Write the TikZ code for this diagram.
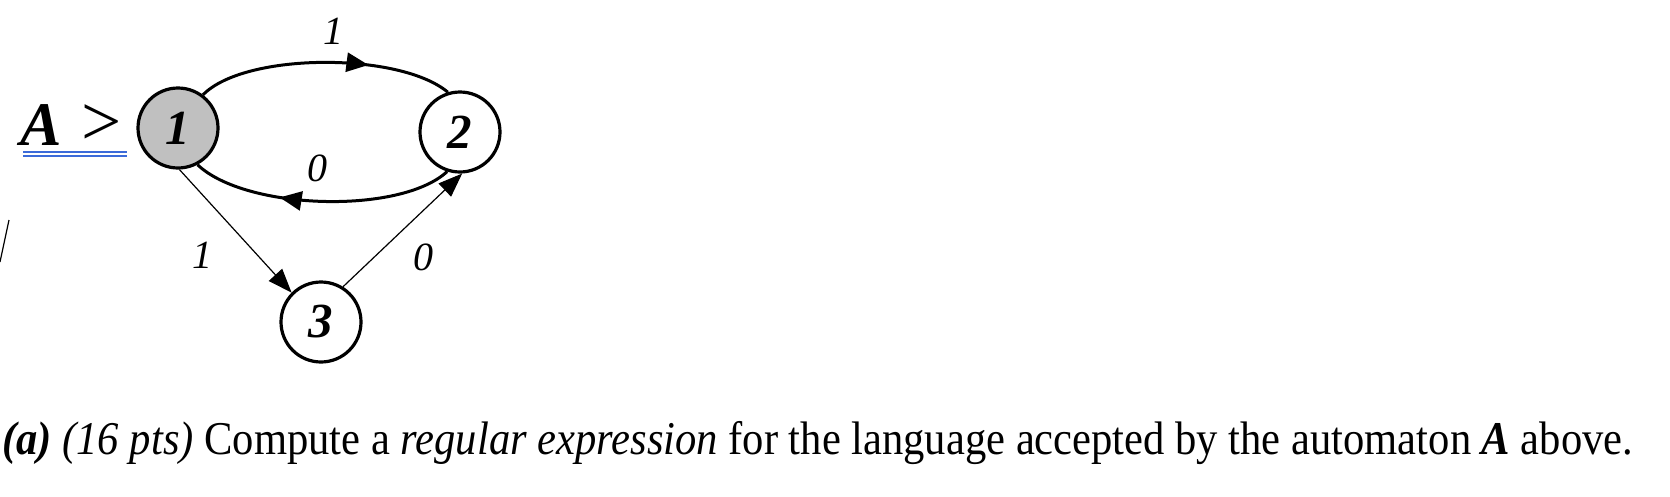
\documentclass[tikz,border=0pt]{standalone}
\usepackage{fontspec}
\setmainfont{Liberation Serif}
\usetikzlibrary{arrows.meta,decorations.markings}
\definecolor{stgray}{HTML}{C0C0C0}
\definecolor{ulblue}{HTML}{3B6BD9}
\tikzset{
  stnode/.style={circle, draw, line width=3.2pt, minimum size=80pt, inner sep=0pt,
    font=\fontsize{49}{49}\selectfont\bfseries\itshape},
  elabel/.style={inner sep=0pt, font=\fontsize{40}{40}\selectfont\itshape},
  thickedge/.style={line width=3pt},
  thinedge/.style={line width=1.2pt, -{Triangle[length=24pt,width=18pt]}},
  midarrow/.style={postaction={decorate, decoration={markings,
      mark=at position #1 with {\arrow{Triangle[length=22pt,width=19pt]}}}}}
}
\begin{document}
\begin{tikzpicture}[x=1pt,y=-1pt]
\useasboundingbox (0,0) rectangle (1670,496);
% states
\node[stnode, fill=stgray] (n1) at (178,128) {1};
\node[stnode] (n2) at (460,132) {2};
\node[stnode] (n3) at (321,322) {3};
% start marker
\node[anchor=base west, inner sep=0pt, font=\fontsize{62}{62}\selectfont] (lblA) at (20,145) {\textbf{\textit{A}}\hspace{20pt}\scalebox{1.15}{>}};
\coordinate (ulL) at (23,152);
\coordinate (ulR) at (127,152);
\draw[ulblue, line width=1.4pt] (ulL) -- (ulR);
\draw[ulblue, line width=1.4pt] ([yshift=-4pt]ulL) -- ([yshift=-4pt]ulR);
% stray slash
\coordinate (sA) at (9,220);
\coordinate (sB) at (0,262);
\draw[line width=1.2pt] (sA) -- (sB);
% edges
\draw[thickedge, midarrow=0.67] (n1.53) .. controls (245,52) and (400,52) .. (n2.107);
\draw[thickedge, midarrow=0.66] (n2.-108) .. controls (400,215) and (245,210) .. (n1.-62);
\draw[thinedge] (n1.-88) -- (n3.135);
\draw[thinedge] (n3.58) -- (n2.-87);
% edge labels
\node[elabel] (l12) at (333,31) {1};
\node[elabel] (l21) at (317,168) {0};
\node[elabel] (l13) at (202,255) {1};
\node[elabel] (l32) at (423,257) {0};
% question text
\node[anchor=base west, inner sep=0pt, font=\fontsize{47}{47}\selectfont] (q) at (2,454)
  {\resizebox{1631pt}{\height}{\textbf{\textit{(a)}} \textit{(16 pts)} Compute a \textit{regular expression} for the language accepted by the automaton \textbf{\textit{A}} above.}};
\end{tikzpicture}
\end{document}
